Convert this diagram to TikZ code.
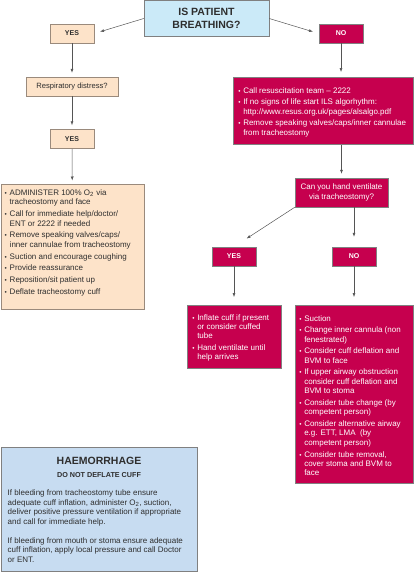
\documentclass[tikz,border=0pt]{standalone}
\usepackage{fontspec}
\setmainfont{Liberation Sans}
\usetikzlibrary{arrows.meta}

\definecolor{peach}{HTML}{FDE3C9}
\definecolor{berry}{HTML}{C6004E}
\definecolor{skyblue}{HTML}{CBEAF8}
\definecolor{haemblue}{HTML}{C7DCF1}
\definecolor{edgegray}{HTML}{808080}
\definecolor{peachedge}{HTML}{9A8A7C}
\definecolor{inkgray}{HTML}{2E2E2E}
\definecolor{linegray}{HTML}{555555}

\newlength{\bulw}\setlength{\bulw}{5pt}
\newlength{\itgap}\setlength{\itgap}{2.3pt}
\newcommand{\itm}[1]{\par\hangindent=\bulw\hangafter=1\noindent
  \makebox[\bulw][l]{\scalebox{0.8}{\textbullet}}#1\par\vspace{\itgap}}
% width, height, top pad, left pad, items
\newcommand{\blist}[5]{\parbox[t][#2][t]{#1}{\vspace*{#3}\raggedright
  \leftskip=#4\relax #5}}

\begin{document}
\begin{tikzpicture}[x=1pt, y=-1pt,
	box/.style={draw=edgegray, line width=0.5pt, inner sep=0pt, anchor=north west},
	tag/.style={draw=edgegray, line width=0.5pt, minimum width=44pt, minimum height=19pt,
		inner sep=0pt, font=\fontsize{7}{8}\selectfont\bfseries},
	arr/.style={draw=linegray, line width=0.5pt, -{Latex[length=4pt,width=3pt]}}]
	\useasboundingbox (0,0) rectangle (414,573);

	% top question
	\node[draw=edgegray, line width=0.5pt, fill=skyblue, minimum width=125pt, minimum height=36pt,
		align=center, text=inkgray, font=\fontsize{10.5}{12.5}\selectfont\bfseries]
		(breath) at (206.5,18.5) {IS PATIENT\\BREATHING?};

	% breathing side
	\node[tag, draw=peachedge, fill=peach, text=inkgray] (yes1) at (72,33.5) {YES};
	\node[draw=peachedge, line width=0.5pt, fill=peach, minimum width=92pt, minimum height=19pt,
		inner sep=0pt, text=inkgray, font=\fontsize{7.6}{9}\selectfont]
		(distress) at (72,86.5) {Respiratory distress?};
	\node[tag, draw=peachedge, fill=peach, text=inkgray] (yes2) at (72,139) {YES};
	\node[box, draw=peachedge, fill=peach, text=inkgray] (care) at (0.5,184)
		{\fontsize{8}{9.8}\selectfont\setlength{\itgap}{1.8pt}%
		\blist{143.5pt}{125pt}{5pt}{4pt}{%
		\itm{ADMINISTER 100\% O\textsubscript{2} via\newline tracheostomy and face}
		\itm{Call for immediate help/doctor/\newline ENT or 2222 if needed}
		\itm{Remove speaking valves/caps/\newline inner cannulae from tracheostomy}
		\itm{Suction and encourage coughing}
		\itm{Provide reassurance}
		\itm{Reposition/sit patient up}
		\itm{Deflate tracheostomy cuff}}};

	% not breathing side
	\node[tag, fill=berry, text=white] (no1) at (341,33.5) {NO};
	\node[box, fill=berry, text=white] (call) at (233,77)
		{\fontsize{8}{9.4}\selectfont
		\blist{180pt}{67pt}{10pt}{5pt}{%
		\itm{Call resuscitation team -- 2222}
		\itm{If no signs of life start ILS algorhythm:\newline http://www.resus.org.uk/pages/alsalgo.pdf}
		\itm{Remove speaking valves/caps/inner cannulae\newline from tracheostomy}}};
	\node[draw=edgegray, line width=0.5pt, fill=berry, minimum width=93pt, minimum height=29pt,
		inner sep=0pt, align=center, text=white, font=\fontsize{8}{9.4}\selectfont]
		(ventq) at (341.5,192.5) {Can you hand ventilate\\via tracheostomy?};
	\node[tag, fill=berry, text=white] (yes3) at (234,256.5) {YES};
	\node[tag, fill=berry, text=white] (no3) at (354,256.5) {NO};
	\node[box, fill=berry, text=white] (inflate) at (187,305)
		{\fontsize{8}{9.4}\selectfont
		\blist{94pt}{63pt}{9pt}{5pt}{%
		\itm{Inflate cuff if present\newline or consider cuffed\newline tube}
		\itm{Hand ventilate until\newline help arrives}}};
	\node[box, fill=berry, text=white] (rescue) at (295,305)
		{\fontsize{8}{9.4}\selectfont
		\blist{118pt}{178pt}{10pt}{4pt}{%
		\itm{Suction}
		\itm{Change inner cannula (non\newline fenestrated)}
		\itm{Consider cuff deflation and\newline BVM to face}
		\itm{If upper airway obstruction\newline consider cuff deflation and\newline BVM to stoma}
		\itm{Consider tube change (by\newline competent person)}
		\itm{Consider alternative airway\newline e.g. ETT, LMA\ \ (by\newline competent person)}
		\itm{Consider tube removal,\newline cover stoma and BVM to\newline face}}};

	% haemorrhage note
	\node[box, fill=haemblue, text=inkgray] (haem) at (0.5,447)
		{\parbox[t][124pt][t]{196.5pt}{\vspace*{10pt}\centering
		{\fontsize{10.5}{12}\selectfont\bfseries HAEMORRHAGE\par}\vspace{3.8pt}
		{\fontsize{7.2}{9}\selectfont\bfseries DO NOT DEFLATE CUFF\par}\vspace{8.9pt}
		\fontsize{8}{9.5}\selectfont\raggedright\leftskip=7pt\relax
		If bleeding from tracheostomy tube ensure\newline
		adequate cuff inflation, administer O\textsubscript{2}, suction,\newline
		deliver positive pressure ventilation if appropriate\newline
		and call for immediate help.\par\vspace{9.5pt}
		If bleeding from mouth or stoma ensure adequate\newline
		cuff inflation, apply local pressure and call Doctor\newline
		or ENT.}};

	% connectors
	\draw[arr, shorten >=6pt] (breath.west) -- (yes1.east);
	\draw[arr, shorten >=6pt] (breath.east) -- (no1.west);
	\draw[arr, shorten >=4pt] (yes1) -- (distress);
	\draw[arr, shorten >=4pt] (distress) -- (yes2);
	\draw[arr, shorten >=3.5pt] (yes2) -- (care);
	\draw[arr, shorten >=5pt] (no1) -- (call.north -| no1);
	\draw[arr, shorten >=4pt] (call.south -| ventq) -- (ventq);
	\draw[arr, shorten >=15pt] (ventq.south west) -- (yes3.north);
	\draw[arr, shorten >=10pt] (ventq.south -| no3) -- (no3);
	\draw[arr, shorten >=8pt] (yes3) -- (inflate.north -| yes3);
	\draw[arr, shorten >=8pt] (no3) -- (rescue.north -| no3);
\end{tikzpicture}
\end{document}
